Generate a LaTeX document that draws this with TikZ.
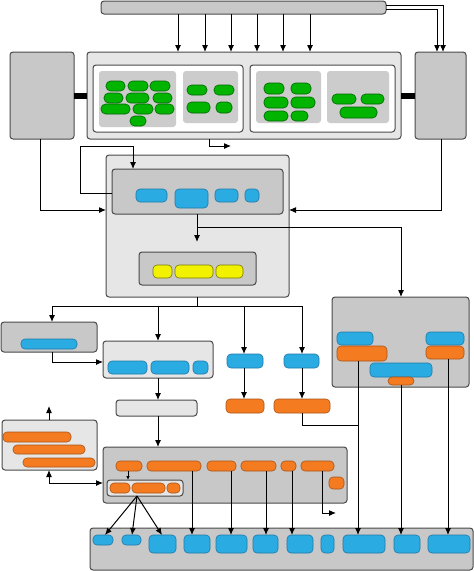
\documentclass[tikz,border=0pt]{standalone}
\usetikzlibrary{arrows.meta,fit}
\definecolor{cgray}{HTML}{C8C8C8}
\definecolor{clight}{HTML}{E6E6E6}
\definecolor{cgrp}{HTML}{CCCCCC}
\definecolor{cedge}{HTML}{4A4A4A}
\definecolor{cblue}{HTML}{2AACE2}
\definecolor{cblueb}{HTML}{1F78A8}
\definecolor{corange}{HTML}{F47B20}
\definecolor{coranb}{HTML}{A8561A}
\definecolor{cgreen}{HTML}{00B400}
\definecolor{cgreenb}{HTML}{006400}
\definecolor{cyellow}{HTML}{F2F200}
\definecolor{cyellowb}{HTML}{7A7A00}
\tikzset{
  fb/.style={inner sep=0pt, outer sep=0pt},
  gbox/.style={fb, draw=cedge, fill=cgray, line width=1pt, rounded corners=3pt},
  lbox/.style={fb, draw=cedge, fill=clight, line width=1pt, rounded corners=3pt},
  wbox/.style={fb, draw=cedge, fill=white, line width=1pt, rounded corners=3pt},
  grp/.style={fb, fill=cgrp, rounded corners=3pt},
  bp/.style={fb, draw=cblueb, fill=cblue, line width=0.6pt, rounded corners=4pt},
  op/.style={fb, draw=coranb, fill=corange, line width=0.6pt, rounded corners=4pt},
  gp/.style={fb, draw=cgreenb, fill=cgreen, line width=0.6pt, rounded corners=4.5pt},
  yp/.style={fb, draw=cyellowb, fill=cyellow, line width=0.6pt, rounded corners=4pt},
  ln/.style={line width=1pt, black},
  arr/.style={ln, -{Latex[length=7pt,width=6pt]}},
  darr/.style={ln, {Latex[length=7pt,width=6pt]}-{Latex[length=7pt,width=6pt]}},
  bar/.style={line width=6pt, black}
}
\newcommand\mybox[6]{\node[#1,fit={(#3,#4)(#5,#6)}] (#2) {};}
\begin{document}
\begin{tikzpicture}[x=1pt,y=-1pt]
\useasboundingbox (0,0) rectangle (474,571);
% top bar
\mybox{gbox}{topbar}{101}{1}{386}{14}
% top row
\mybox{gbox}{leftbox}{10}{52}{74}{139}
\mybox{lbox}{main}{87}{52}{401}{139}
\mybox{gbox}{rightbox}{415}{52}{466}{139}
\mybox{wbox}{wl}{93}{65}{243}{132}
\mybox{wbox}{wr}{250}{65}{395}{132}
\mybox{grp}{g1}{99}{71}{176}{127}
\mybox{grp}{g2}{183}{71}{238}{123}
\mybox{grp}{g3}{256}{71}{321}{123}
\mybox{grp}{g4}{327}{71}{389}{123}
\draw[bar] (leftbox) -- (main);
\draw[bar] (main) -- (rightbox);
% green pills group 1
\mybox{gp}{ga1}{106}{81}{125}{91}
\mybox{gp}{ga2}{128}{81}{148}{91}
\mybox{gp}{ga3}{150}{81}{170}{91}
\mybox{gp}{ga4}{104}{93}{123}{103}
\mybox{gp}{ga5}{126}{93}{149}{103}
\mybox{gp}{ga6}{153}{93}{172}{103}
\mybox{gp}{ga7}{101}{104}{130}{114}
\mybox{gp}{ga8}{133}{104}{153}{114}
\mybox{gp}{ga9}{155}{104}{174}{114}
\mybox{gp}{ga10}{130}{116}{146}{126}
% group 2
\mybox{gp}{gb1}{187}{85}{207}{95}
\mybox{gp}{gb2}{214}{85}{234}{95}
\mybox{gp}{gb3}{187}{102}{210}{113}
\mybox{gp}{gb4}{216}{102}{232}{113}
% group 3
\mybox{gp}{gc1}{264}{83}{284}{94}
\mybox{gp}{gc2}{291}{83}{311}{94}
\mybox{gp}{gc3}{264}{97}{288}{108}
\mybox{gp}{gc4}{291}{97}{315}{108}
\mybox{gp}{gc5}{264}{111}{288}{121}
\mybox{gp}{gc6}{291}{111}{308}{121}
% group 4
\mybox{gp}{gd1}{332}{94}{356}{104}
\mybox{gp}{gd2}{361}{94}{384}{104}
\mybox{gp}{gd3}{340}{107}{377}{118}
% arrows from top bar
\foreach \xx in {178,205,231,257,283,310}
  \draw[arr] (topbar.south -| \xx,0) -- (main.north -| \xx,0);
\coordinate (tr1) at (443,5);
\coordinate (tr2) at (437,9);
\draw[arr] (topbar.east |- tr1) -- (tr1) -- (rightbox.north -| tr1);
\draw[arr] (topbar.east |- tr2) -- (tr2) -- (rightbox.north -| tr2);
\coordinate (sm1) at (209,146);
\coordinate (sm2) at (231,146);
\draw[arr] (main.south -| sm1) -- (sm1) -- (sm2);
% middle box
\mybox{lbox}{mid}{106}{155}{289}{297}
\mybox{gbox}{ib}{112}{169}{283}{214}
\mybox{bp}{b1}{136}{189}{167}{202}
\mybox{bp}{b2}{175}{189}{208}{208}
\mybox{bp}{b3}{215}{189}{238}{202}
\mybox{bp}{b4}{245}{189}{259}{202}
\mybox{gbox}{yb}{139}{252}{256}{285}
\mybox{yp}{y1}{153}{265}{172}{278}
\mybox{yp}{y2}{175}{265}{213}{278}
\mybox{yp}{y3}{216}{265}{243}{278}
% connectors into mid
\coordinate (lc) at (40,210);
\draw[arr] (leftbox.south -| lc) -- (lc) -- (mid.west |- lc);
\coordinate (lp1) at (80,193);
\coordinate (lp2) at (80,146);
\coordinate (lp3) at (133,146);
\draw[arr] (ib.west |- lp1) -- (lp1) -- (lp2) -- (lp3) -- (ib.north -| lp3);
\coordinate (rc) at (441,210);
\draw[arr] (rightbox.south -| rc) -- (rc) -- (mid.east |- rc);
\coordinate (yt) at (197,242);
\draw[arr] (ib.south -| yt) -- (yt);
% right gray box
\mybox{gbox}{rb}{332}{297}{469}{387}
\coordinate (j1) at (197,227);
\coordinate (j2) at (401,227);
\draw[arr] (j1) -- (j2) -- (rb.north -| j2);
\mybox{bp}{rbb1}{337}{332}{373}{345}
\mybox{op}{rbo1}{337}{346}{387}{361}
\mybox{bp}{rbb2}{426}{332}{464}{345}
\mybox{op}{rbo2}{426}{346}{464}{359}
\mybox{bp}{rbb3}{370}{363}{432}{377}
\mybox{op}{rbo3}{388}{377}{414}{385}
% split below mid
\coordinate (s0) at (197,306);
\coordinate (s1) at (52,306);
\coordinate (s2) at (158,306);
\coordinate (s3) at (244,306);
\coordinate (s4) at (302,306);
\draw[ln] (mid.south -| s0) -- (s0);
\draw[ln] (s1) -- (s4);
\mybox{gbox}{lsb}{1}{322}{97}{352}
\mybox{bp}{lsbp}{21}{339}{77}{349}
\mybox{lbox}{mb}{103}{341}{213}{378}
\mybox{bp}{mb1}{108}{361}{147}{374}
\mybox{bp}{mb2}{151}{361}{189}{374}
\mybox{bp}{mb3}{193}{361}{208}{374}
\draw[arr] (s1) -- (lsb.north -| s1);
\draw[arr] (s2) -- (mb.north -| s2);
\coordinate (lm) at (52,362);
\draw[arr] (lsb.south -| lm) -- (lm) -- (mb.west |- lm);
\mybox{bp}{pA}{227}{354}{263}{368}
\mybox{bp}{pB}{284}{354}{319}{368}
\mybox{op}{oA}{226}{399}{264}{413}
\mybox{op}{oB}{274}{399}{330}{413}
\draw[arr] (s3) -- (pA.north -| s3);
\draw[arr] (s4) -- (pB.north -| s4);
\draw[arr] (pA.south -| s3) -- (oA.north -| s3);
\draw[arr] (pB.south -| s4) -- (oB.north -| s4);
\mybox{lbox}{lg}{116}{400}{197}{416}
\draw[arr] (mb.south -| s2) -- (lg.north -| s2);
% orange big box
\mybox{gbox}{ob}{103}{447}{347}{503}
\draw[arr] (lg.south -| s2) -- (ob.north -| s2);
\mybox{op}{o1}{116}{461}{142}{471}
\mybox{op}{o2}{147}{461}{201}{471}
\mybox{op}{o3}{207}{461}{236}{471}
\mybox{op}{o4}{241}{461}{276}{471}
\mybox{op}{o5}{281}{461}{296}{471}
\mybox{op}{o6}{301}{461}{334}{471}
\mybox{op}{o7}{329}{477}{344}{489}
\mybox{lbox}{iw}{107}{480}{183}{496}
\mybox{op}{i1}{110}{483}{130}{493}
\mybox{op}{i2}{132}{483}{165}{493}
\mybox{op}{i3}{167}{483}{180}{493}
\coordinate (ia) at (128,0);
\draw[ln, line width=0.8pt, -{Latex[length=4pt,width=3.5pt]}] (o1.south -| ia) -- (iw.north -| ia);
% left orange box
\mybox{lbox}{lo}{2}{420}{97}{470}
\mybox{op}{lo1}{3}{432}{71}{442}
\mybox{op}{lo2}{13}{445}{85}{454}
\mybox{op}{lo3}{23}{458}{95}{467}
\coordinate (lu) at (49,406);
\draw[arr] (lo.north -| lu) -- (lu);
\coordinate (ld) at (49,483);
\draw[darr] (lo.south -| ld) -- (ld) -- (ob.west |- ld);
% bottom box
\mybox{gbox}{bb}{90}{528}{473}{570}
\mybox{bp}{q1}{93}{535}{113}{545}
\mybox{bp}{q2}{122}{535}{141}{545}
\mybox{bp}{q3}{149}{535}{176}{553}
\mybox{bp}{q4}{184}{535}{210}{553}
\mybox{bp}{q5}{216}{535}{247}{553}
\mybox{bp}{q6}{253}{535}{278}{553}
\mybox{bp}{q7}{287}{535}{313}{553}
\mybox{bp}{q8}{321}{535}{334}{553}
\mybox{bp}{q9}{343}{535}{385}{553}
\mybox{bp}{q10}{394}{535}{420}{553}
\mybox{bp}{q11}{428}{535}{470}{553}
% fan
\coordinate (fan) at (137,496);
\draw[arr] (fan) -- (q1.north -| 105,0);
\draw[arr] (fan) -- (q2.north -| 132,0);
\draw[arr] (fan) -- (q3.north -| 162,0);
% verticals from orange box
\draw[arr] (o2.south -| 192,0) -- (q4.north -| 192,0);
\draw[arr] (o3.south -| 231,0) -- (q5.north -| 231,0);
\draw[arr] (o4.south -| 266,0) -- (q6.north -| 266,0);
\draw[arr] (o5.south -| 292,0) -- (q7.north -| 292,0);
\coordinate (ex1) at (322,513);
\coordinate (ex2) at (336,513);
\draw[arr] (o6.south -| ex1) -- (ex1) -- (ex2);
% verticals from right box
\coordinate (v1) at (358,425);
\draw[ln] (oB.south -| s4) -- (302,425) -- (v1);
\draw[arr] (rbo1.south -| v1) -- (q9.north -| v1);
\draw[arr] (rbo3.south -| 401,0) -- (q10.north -| 401,0);
\draw[arr] (rbo2.south -| 448,0) -- (q11.north -| 448,0);
\end{tikzpicture}
\end{document}
